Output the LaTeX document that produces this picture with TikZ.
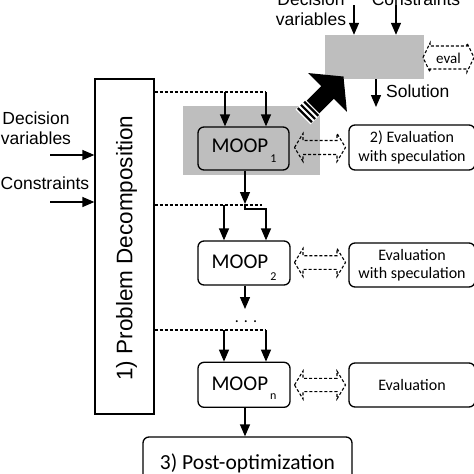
\documentclass[tikz,border=0pt]{standalone}
\usepackage{fontspec}
\setmainfont{Carlito}
\newfontfamily\arialf{Liberation Sans}
\usetikzlibrary{arrows.meta,calc}
\definecolor{gbg}{RGB}{190,190,190}
\newcommand\mydbl[5]{%
  \begin{scope}[shift={(#1)}]
    \draw[dline] (-#2,0) -- ({-#2+#3},-#5) -- ({-#2+#3},-#4) -- ({#2-#3},-#4) -- ({#2-#3},-#5) -- (#2,0)
      -- ({#2-#3},#5) -- ({#2-#3},#4) -- ({-#2+#3},#4) -- ({-#2+#3},#5) -- cycle;
  \end{scope}}
\newcommand\moopsub[2]{MOOP\hspace{2pt}\raisebox{-#2pt}{\fontsize{12}{12}\selectfont #1}}
\begin{document}
\begin{tikzpicture}[x=1pt,y=-1pt,
  box/.style={draw, line width=1.3pt, rounded corners=6pt, inner sep=0pt},
  plainbox/.style={inner sep=0pt},
  arr/.style={-{Triangle[length=12pt,width=10pt]}, line width=1.3pt},
  dline/.style={dash pattern=on 3pt off 2pt, line width=1.1pt},
  lab/.style={font=\arialf\fontsize{17.5}{20}\selectfont, inner sep=0pt},
  mooptext/.style={font=\fontsize{21}{24}\selectfont, inner sep=0pt, anchor=base},
  evtext/.style={font=\fontsize{16}{18.5}\selectfont, align=center},
]
\useasboundingbox (0,0) rectangle (474,474);
\clip (0,0) rectangle (474,474);
\fill[white] (0,0) rectangle (474,474);

% ---- top-right sub-problem
\node[plainbox, fill=gbg, minimum width=99pt, minimum height=44pt] (top) at (374.5,57) {};
\node[lab, align=center] (topdv) at (311,9) {Decision\\variables};
\node[lab] (topcon) at (416,-1) {Constraints};
\coordinate (tdin) at (354,5);
\coordinate (tcin) at (396,5);
\draw[arr] (tdin) -- (tdin |- top.north);
\draw[arr] (tcin) -- (tcin |- top.north);
\coordinate (solend) at (376,107);
\draw[arr] (solend |- top.south) -- (solend);
\node[lab, anchor=west] (sol) at (386,91) {Solution};
\mydbl{448.5,57.5}{25.5}{7}{11.5}{14.5}
\node[font=\fontsize{15}{15}\selectfont, inner sep=0pt] (evaltxt) at (448.5,58) {eval};

% ---- decomposition box
\node[draw, line width=1.3pt, minimum width=59pt, minimum height=335pt, inner sep=0pt] (decomp) at (124.5,246.5) {};
\node[rotate=90, font=\arialf\fontsize{22.5}{26}\selectfont, inner sep=0pt] (decompt) at (126.5,248) {1) Problem Decomposition};

\node[lab, align=center] (ldv) at (36,128) {Decision\\variables};
\node[lab] (lcon) at (45,183) {Constraints};
\coordinate (ldvin) at (50,155);
\coordinate (lcin) at (50,202);
\draw[arr] (ldvin) -- (ldvin -| decomp.west);
\draw[arr] (lcin) -- (lcin -| decomp.west);

% ---- MOOP boxes
\node[plainbox, fill=gbg, minimum width=137pt, minimum height=69pt] (bg1) at (251.5,140.5) {};
\node[box, fill=gbg, minimum width=91pt, minimum height=43pt] (moop1) at (243.5,148.5) {};
\node[mooptext] (moop1t) at (244,152) {\moopsub{1}{10}};
\node[box, minimum width=92pt, minimum height=44pt] (moop2) at (244,263) {};
\node[mooptext] (moop2t) at (244,268) {\moopsub{2}{12}};
\node[box, minimum width=92pt, minimum height=45pt] (moopn) at (244,384.8) {};
\node[mooptext] (moopnt) at (244,390.5) {\moopsub{n}{8.5}};

% ---- evaluation boxes
\node[box, evtext, minimum width=126pt, minimum height=45pt] (ev1) at (412,147.5) {2) Evaluation\\with speculation};
\node[box, evtext, minimum width=126pt, minimum height=44pt] (ev2) at (412,265) {Evaluation\\with speculation};
\node[box, evtext, minimum width=126pt, minimum height=44pt] (evn) at (412,385) {Evaluation};
\mydbl{320,147.5}{25.5}{8.5}{7}{14}
\mydbl{320,262.5}{25.5}{8.5}{6.8}{14}
\mydbl{320,385}{25.5}{8.5}{6.6}{14}

% ---- post-optimization
\node[box, minimum width=209pt, minimum height=52pt, font=\fontsize{21.5}{24}\selectfont] (post) at (247.5,463) {3) Post-optimization};

% ---- dashed feeds and arrows
\coordinate (d1) at (266,92);
\coordinate (a1l) at (225,92);
\draw[dline] (d1 -| decomp.east) -- (d1);
\draw[arr] (a1l) -- (a1l |- moop1.north);
\draw[arr] (d1) -- (d1 |- moop1.north);

\coordinate (j1) at (245,204);
\coordinate (j2) at (266,209);
\draw[arr] (j1 |- moop1.south) -- (j1);
\draw[arr] (j1) |- (j2) -- (j2 |- moop2.north);
\coordinate (d2) at (262,205);
\coordinate (a2l) at (224,205);
\draw[dline] (d2 -| decomp.east) -- (d2);
\draw[arr] (a2l) -- (a2l |- moop2.north);

\coordinate (m2e) at (245,309);
\draw[arr] (m2e |- moop2.south) -- (m2e);
\node[font=\fontsize{16}{16}\selectfont, anchor=base, inner sep=0pt] (dots) at (246,322.5) {.\hspace{5pt}.\hspace{5pt}.};

\coordinate (d3) at (266,330);
\coordinate (a3l) at (224,330);
\draw[dline] (d3 -| decomp.east) -- (d3);
\draw[arr] (a3l) -- (a3l |- moopn.north);
\draw[arr] (d3) -- (d3 |- moopn.north);
\coordinate (pc) at (245,0);
\draw[arr] (pc |- moopn.south) -- (pc |- post.north);

% ---- big black arrow
\begin{scope}[shift={(327.5,92.5)}, rotate=45]
  \fill[white] (-34.5,-10.5) rectangle (-20.5,10.5);
  \fill[black] (22.6,0) -- (0,-27.5) -- (0,-9) -- (-20.5,-9) -- (-20.5,9) -- (0,9) -- (0,27.5) -- cycle;
  \foreach \a in {-23,-27.5,-32} \fill[black] (\a-1.1,-10) rectangle (\a+1.1,10);
\end{scope}
\end{tikzpicture}
\end{document}
